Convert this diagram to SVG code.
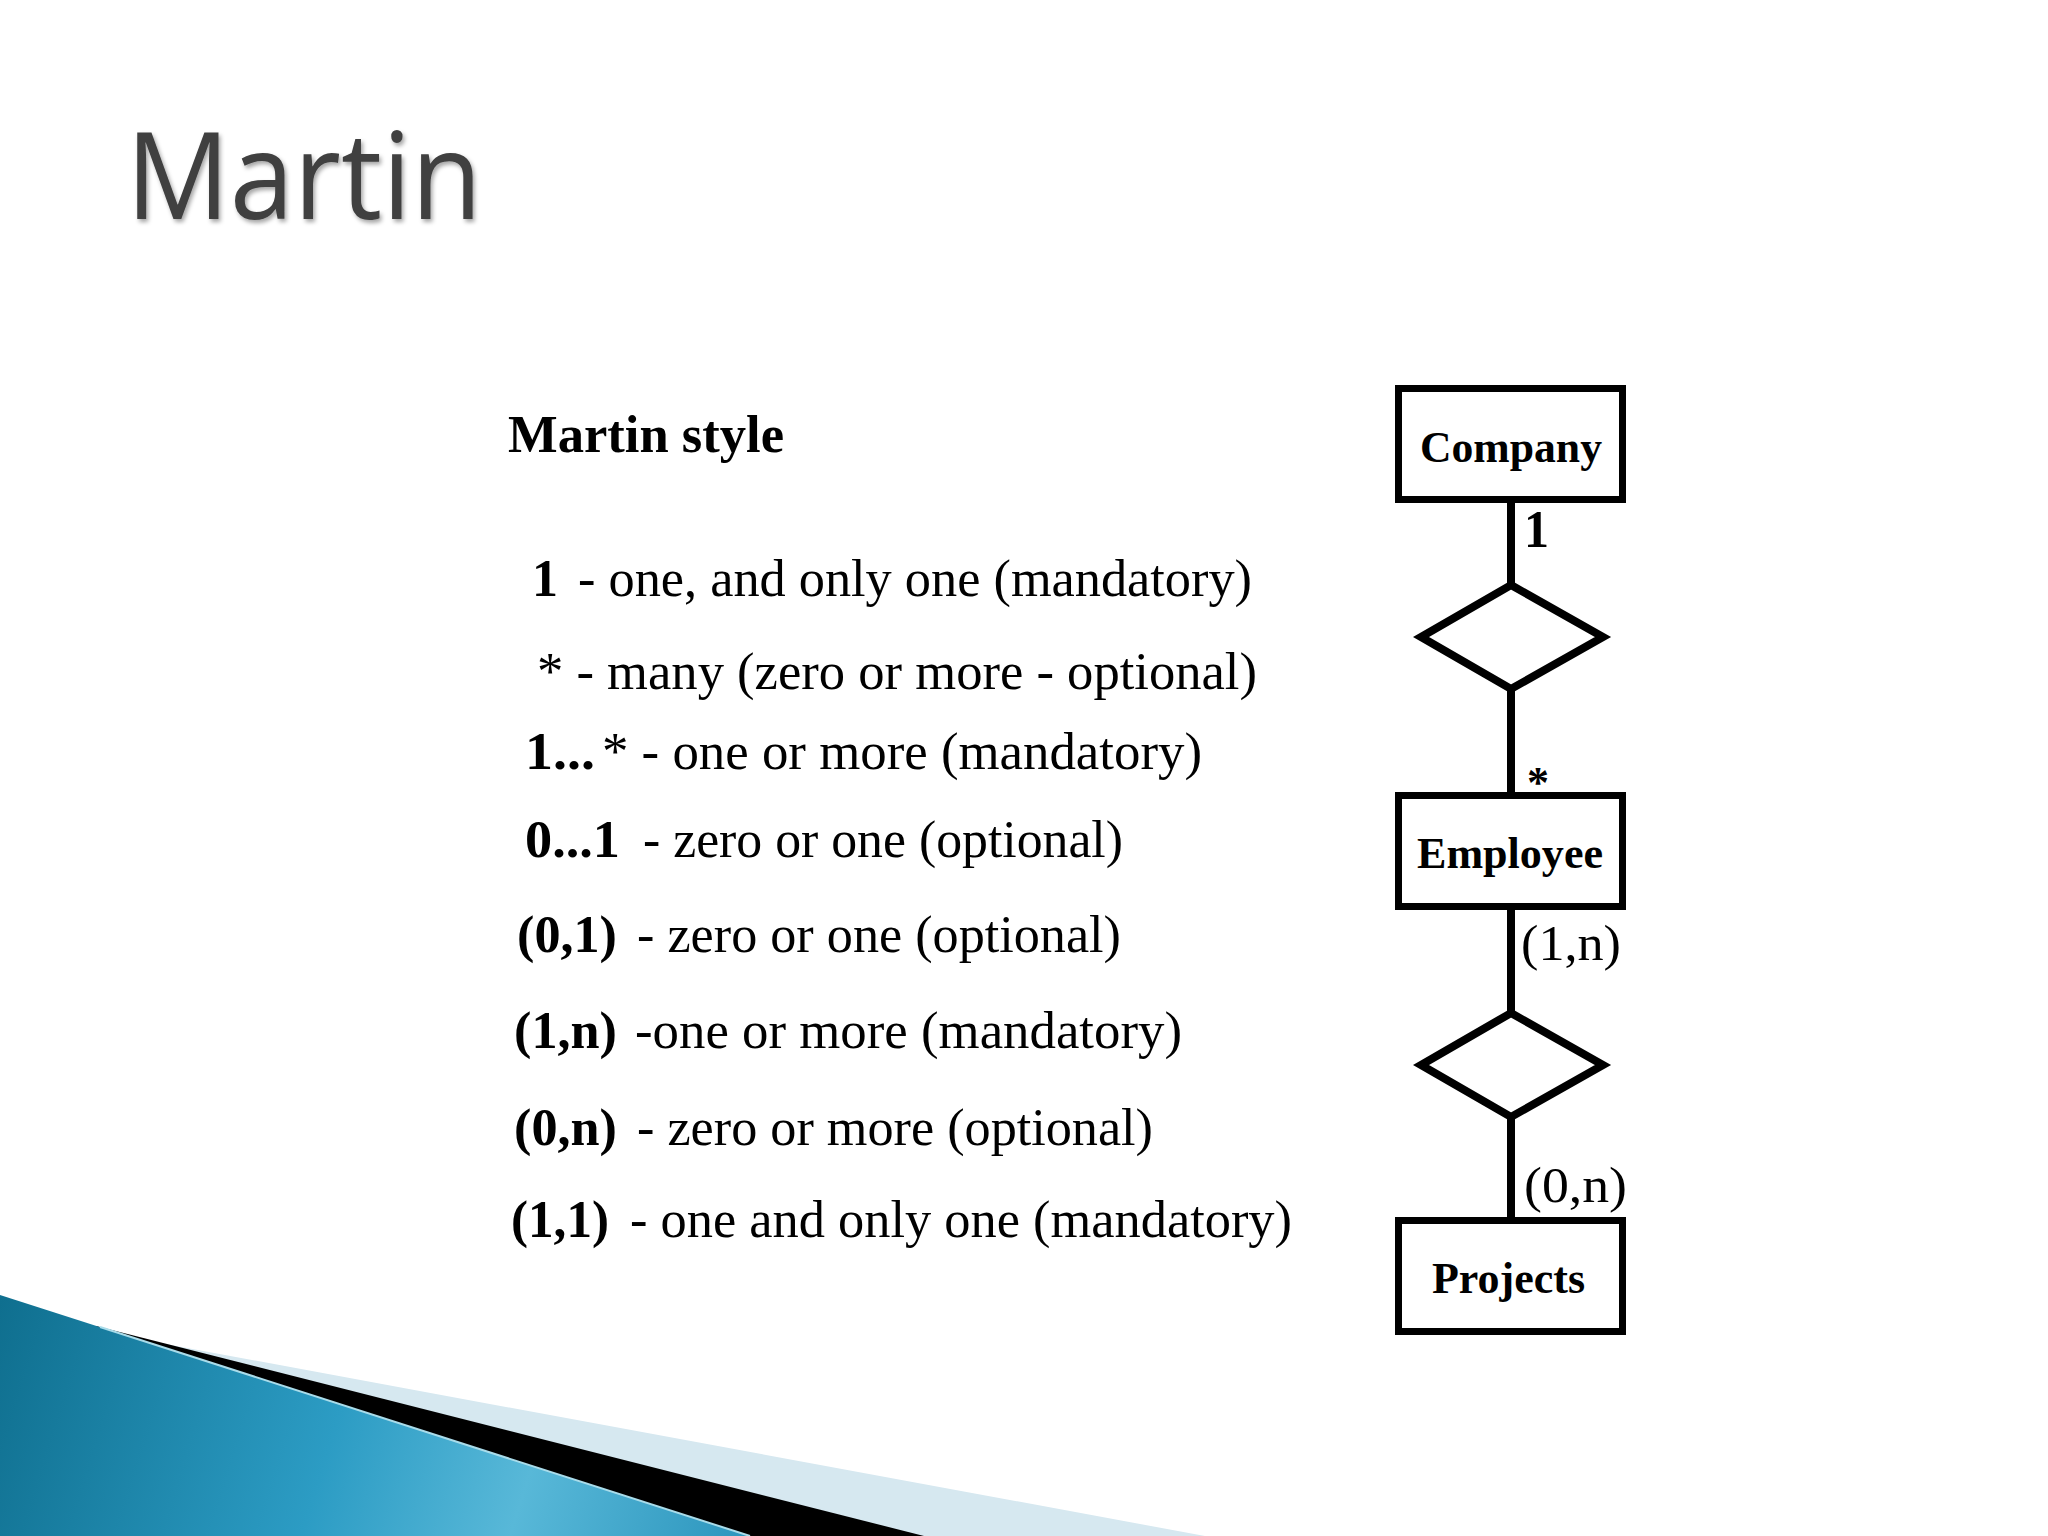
<svg xmlns="http://www.w3.org/2000/svg" width="2048" height="1536" viewBox="0 0 2048 1536">
<defs>
<style>
.t{font-family:"Liberation Serif","Times New Roman",serif;font-size:53px;fill:#000}
.b{font-weight:bold}
.box{fill:#fff;stroke:#000;stroke-width:7}
.dia{fill:#fff;stroke:#000;stroke-width:8;stroke-linejoin:miter}
.lbl{font-family:"Liberation Serif","Times New Roman",serif;fill:#000}
.conn line{stroke:#000;stroke-width:8}
</style>
<filter id="sh" x="-10%" y="-10%" width="130%" height="140%">
<feDropShadow dx="2" dy="3" stdDeviation="2" flood-color="#000" flood-opacity="0.35"/>
</filter>
<linearGradient id="blue" x1="0" y1="1300" x2="760" y2="1536" gradientUnits="userSpaceOnUse">
<stop offset="0" stop-color="#0f6f8f"/>
<stop offset="0.45" stop-color="#2c9cc4"/>
<stop offset="0.7" stop-color="#58b8d8"/>
<stop offset="1" stop-color="#2a94bc"/>
</linearGradient>
</defs>
<rect width="2048" height="1536" fill="#fff"/>

<!-- decoration -->
<g id="decoration">
<polygon points="100,1328 160,1343 1205,1536 0,1536" fill="#d6e8f0"/>
<polygon points="96,1326 924,1536 0,1536" fill="#000"/>
<polygon points="0,1295 750,1536 0,1536" fill="url(#blue)"/>
<line x1="100" y1="1327" x2="750" y2="1536" stroke="#a9dcea" stroke-width="2"/>
</g>

<!-- title -->
<text id="title" x="126" y="219" font-family="'Open Sans','Liberation Sans',sans-serif" font-size="120" fill="#404040" textLength="356" lengthAdjust="spacingAndGlyphs" filter="url(#sh)">Martin</text>

<!-- legend -->
<g id="legend">
<text class="t b" x="508" y="452" textLength="276" lengthAdjust="spacingAndGlyphs">Martin style</text>

<text class="t b" x="532" y="596" textLength="26" lengthAdjust="spacingAndGlyphs">1</text>
<text class="t" x="578" y="596" textLength="674" lengthAdjust="spacingAndGlyphs">- one, and only one (mandatory)</text>

<text class="t" x="537" y="689" textLength="720" lengthAdjust="spacingAndGlyphs">* - many (zero or more - optional)</text>

<text class="t b" x="525" y="769" textLength="70" lengthAdjust="spacingAndGlyphs">1...</text>
<text class="t" x="602" y="769" textLength="600" lengthAdjust="spacingAndGlyphs">* - one or more (mandatory)</text>

<text class="t b" x="525" y="857" textLength="95" lengthAdjust="spacingAndGlyphs">0...1</text>
<text class="t" x="643" y="857" textLength="480" lengthAdjust="spacingAndGlyphs">- zero or one (optional)</text>

<text class="t b" x="517" y="952" textLength="100" lengthAdjust="spacingAndGlyphs">(0,1)</text>
<text class="t" x="637" y="952" textLength="484" lengthAdjust="spacingAndGlyphs">- zero or one (optional)</text>

<text class="t b" x="514" y="1048" textLength="103" lengthAdjust="spacingAndGlyphs">(1,n)</text>
<text class="t" x="635" y="1048" textLength="547" lengthAdjust="spacingAndGlyphs">-one or more (mandatory)</text>

<text class="t b" x="514" y="1145" textLength="103" lengthAdjust="spacingAndGlyphs">(0,n)</text>
<text class="t" x="637" y="1145" textLength="516" lengthAdjust="spacingAndGlyphs">- zero or more (optional)</text>

<text class="t b" x="511" y="1237" textLength="98" lengthAdjust="spacingAndGlyphs">(1,1)</text>
<text class="t" x="630" y="1237" textLength="662" lengthAdjust="spacingAndGlyphs">- one and only one (mandatory)</text>
</g>

<!-- connectors -->
<g id="connectors" class="conn">
<line x1="1511" y1="503" x2="1511" y2="586"/>
<line x1="1511" y1="688" x2="1511" y2="793"/>
<line x1="1511" y1="909" x2="1511" y2="1014"/>
<line x1="1511" y1="1116" x2="1511" y2="1218"/>
</g>

<!-- nodes -->
<g id="company">
<rect class="box" x="1398.5" y="388.5" width="224" height="111"/>
<text class="lbl b" x="1420" y="462" font-size="45" textLength="182" lengthAdjust="spacingAndGlyphs">Company</text>
</g>
<g id="rel1">
<polygon class="dia" points="1511,585 1603,637 1511,689 1421,637"/>
</g>
<g id="employee">
<rect class="box" x="1398.5" y="795.5" width="224" height="111"/>
<text class="lbl b" x="1417" y="868" font-size="45" textLength="186" lengthAdjust="spacingAndGlyphs">Employee</text>
</g>
<g id="rel2">
<polygon class="dia" points="1511,1013 1603,1065 1511,1117 1421,1065"/>
</g>
<g id="projects">
<rect class="box" x="1398.5" y="1220.5" width="224" height="111"/>
<text class="lbl b" x="1432" y="1293" font-size="45" textLength="153" lengthAdjust="spacingAndGlyphs">Projects</text>
</g>

<!-- cardinality labels -->
<g id="labels">
<text class="lbl b" x="1524" y="547" font-size="52" textLength="25" lengthAdjust="spacingAndGlyphs">1</text>
<text class="lbl b" x="1527" y="797" font-size="44" textLength="22" lengthAdjust="spacingAndGlyphs">*</text>
<text class="lbl" x="1521" y="960" font-size="50" textLength="100" lengthAdjust="spacingAndGlyphs">(1,n)</text>
<text class="lbl" x="1524" y="1202" font-size="50" textLength="103" lengthAdjust="spacingAndGlyphs">(0,n)</text>
</g>
</svg>
